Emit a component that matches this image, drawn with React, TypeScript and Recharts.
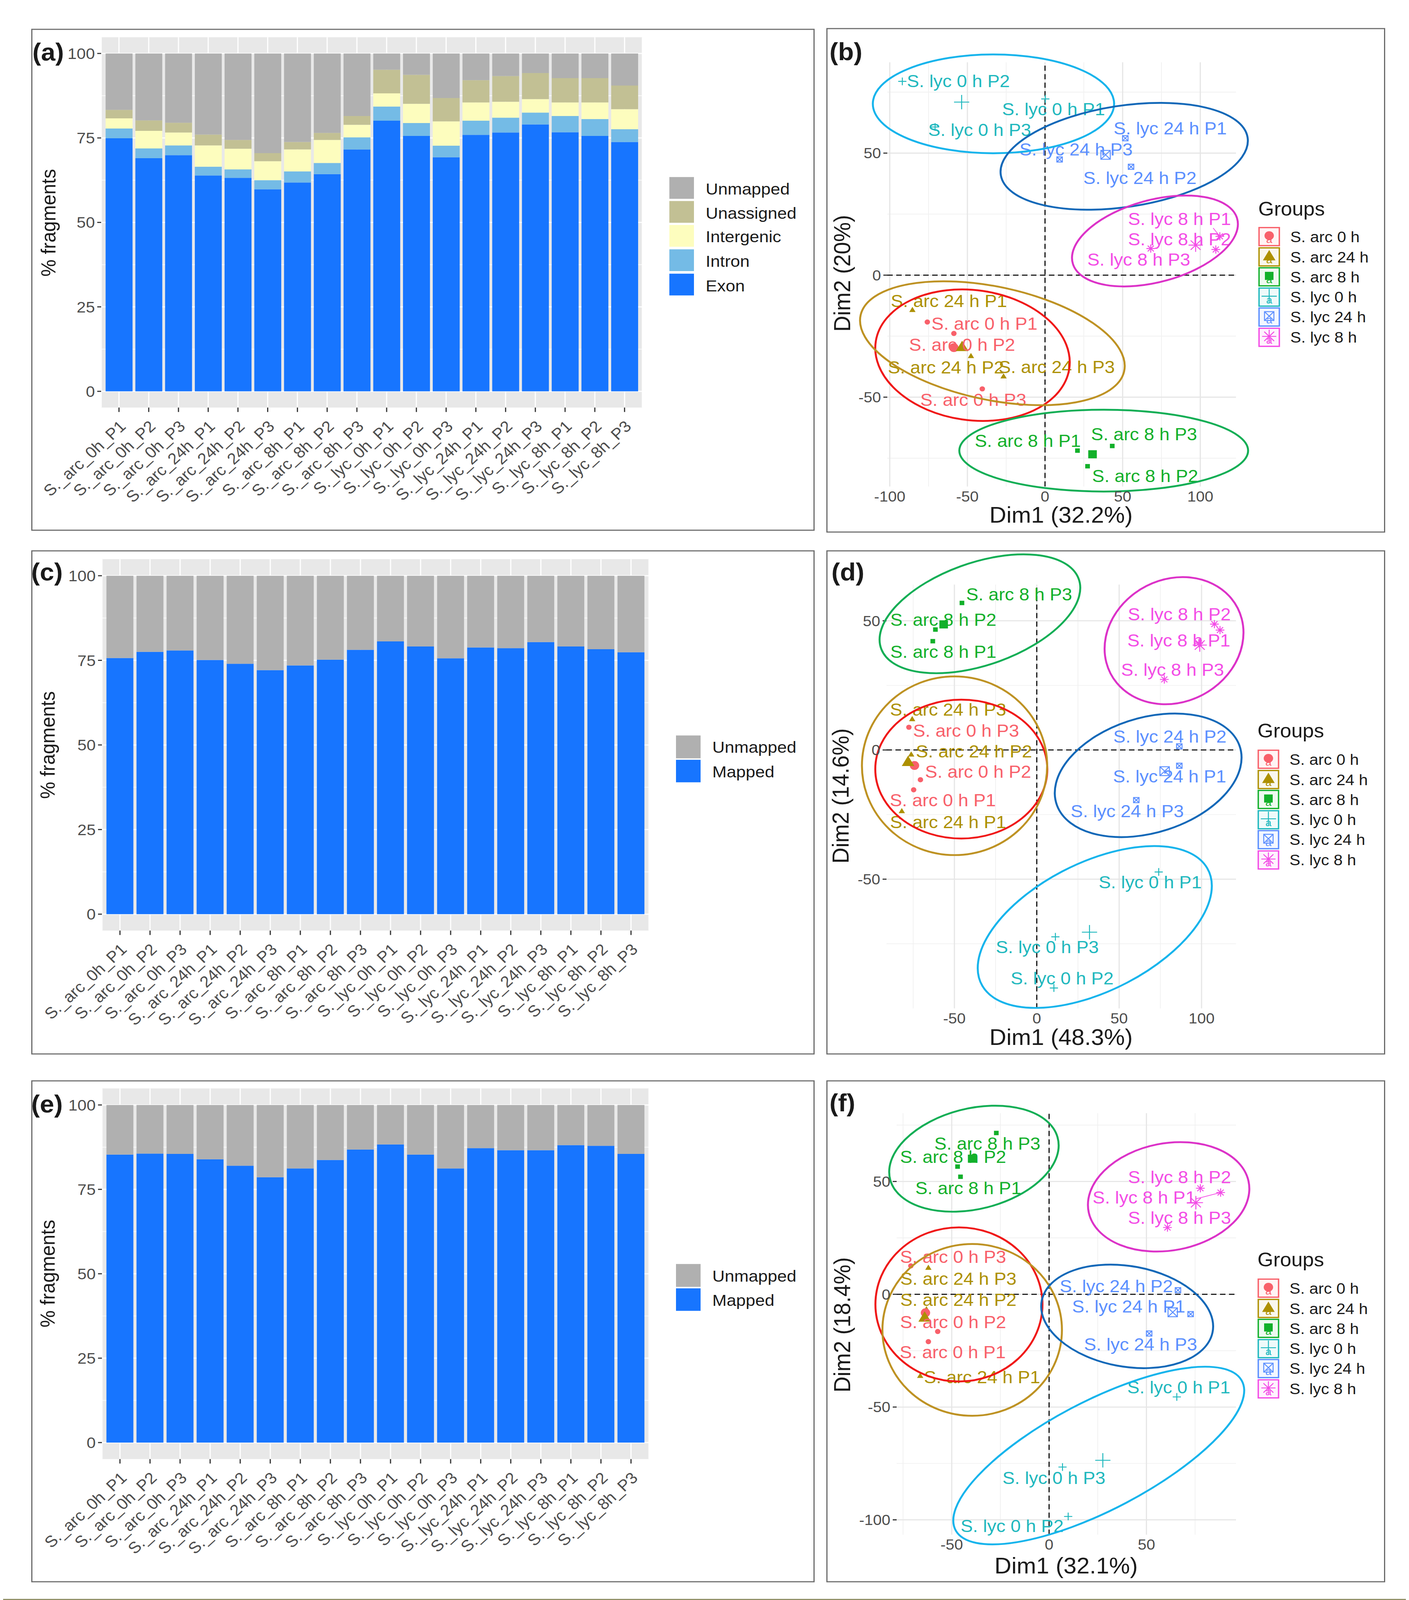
import { BarChart, Bar, XAxis, YAxis, CartesianGrid, ScatterChart, Scatter, ReferenceLine } from 'recharts';

const samples = [
  'S._arc_0h_P1', 'S._arc_0h_P2', 'S._arc_0h_P3', 'S._arc_24h_P1', 'S._arc_24h_P2', 'S._arc_24h_P3',
  'S._arc_8h_P1', 'S._arc_8h_P2', 'S._arc_8h_P3', 'S._lyc_0h_P1', 'S._lyc_0h_P2', 'S._lyc_0h_P3',
  'S._lyc_24h_P1', 'S._lyc_24h_P2', 'S._lyc_24h_P3', 'S._lyc_8h_P1', 'S._lyc_8h_P2', 'S._lyc_8h_P3',
];
const pctTicks = [0, 25, 50, 75, 100];
const pctMinor = [12.5, 37.5, 62.5, 87.5];

// panel a, % fragments
const aExon = [74.9, 69.0, 69.9, 63.9, 63.2, 59.8, 61.8, 64.3, 71.6, 80.1, 75.6, 69.3, 75.9, 76.6, 79.0, 76.7, 75.6, 73.8];
const aIntron = [2.9, 2.9, 2.9, 2.6, 2.5, 2.7, 3.3, 3.3, 3.6, 4.2, 3.8, 3.4, 4.2, 4.4, 3.5, 4.8, 5.0, 3.8];
const aIntergenic = [3.0, 5.2, 3.8, 6.3, 6.1, 5.6, 6.5, 6.8, 3.7, 3.9, 5.7, 7.2, 5.4, 4.7, 4.0, 4.0, 4.9, 5.9];
const aUnassigned = [2.5, 3.1, 2.9, 3.2, 2.6, 2.4, 2.2, 2.1, 2.6, 7.0, 8.6, 6.9, 6.6, 7.6, 7.7, 7.2, 7.2, 7.0];
const aUnmapped = [16.7, 19.8, 20.5, 24.0, 25.6, 29.5, 26.2, 23.5, 18.5, 4.8, 6.3, 13.2, 7.9, 6.7, 5.8, 7.3, 7.3, 9.5];

// panels c and e
const cMapped = [75.7, 77.5, 77.9, 75.1, 74.0, 72.1, 73.5, 75.2, 78.1, 80.6, 79.1, 75.6, 78.8, 78.6, 80.4, 79.1, 78.3, 77.4];
const cUnmapped = [24.3, 22.5, 22.1, 24.9, 26.0, 27.9, 26.5, 24.8, 21.9, 19.4, 20.9, 24.4, 21.2, 21.4, 19.6, 20.9, 21.7, 22.6];
const eMapped = [85.3, 85.6, 85.5, 83.9, 82.0, 78.6, 81.2, 83.7, 86.8, 88.3, 85.3, 81.2, 87.2, 86.6, 86.6, 88.1, 87.9, 85.5];
const eUnmapped = [14.7, 14.4, 14.5, 16.1, 18.0, 21.4, 18.8, 16.3, 13.2, 11.7, 14.7, 18.8, 12.8, 13.4, 13.4, 11.9, 12.1, 14.5];

const groups = ['S. arc 0 h', 'S. arc 24 h', 'S. arc 8 h', 'S. lyc 0 h', 'S. lyc 24 h', 'S. lyc 8 h'];
const markers = ['circle', 'triangle', 'square', 'plus', 'boxx', 'star'];
const pointColors = ['#F8606A', '#AD9000', '#12B02A', '#1FB8BE', '#5B8FFF', '#F34CE6'];
const ellipseColors = ['#F01818', '#BE9223', '#12AE55', '#16B4EC', '#1268B8', '#DC32C8'];

// PCA values, one row per group in the order of `groups`
const bPoints = [
  [[-75.8, -19.2], [-58.7, -23.9], [-40.4, -46.6]],
  [[-85.4, -14.2], [-47.7, -33.1], [-26.7, -41.4]],
  [[20.9, -71.9], [27.4, -78.3], [43.3, -70]],
  [[0.2, 72.2], [-91.9, 79.4], [-70.8, 60.7]],
  [[51.7, 56.1], [55.4, 44.4], [9.4, 47.4]],
  [[68.1, 10.9], [112.6, 15.9], [110, 10.5]],
];
const bMeans = [[-58.7, -29.7], [-53.4, -29.3], [30.6, -73.4], [-53.7, 70.9], [39, 49.3], [97, 12.3]];
const bLabels = [
  [[-39, -20], [-53.4, -28.6], [-46.2, -51.1]],
  [[-61.9, -10.7], [-63.8, -37.8], [7.5, -37.7]],
  [[-11.1, -68], [64.5, -82.3], [63.8, -65.3]],
  [[5.5, 67.9], [-55.8, 79.4], [-42.1, 59.5]],
  [[80.6, 60.1], [61.1, 39.8], [20, 51.4]],
  [[86.6, 22.9], [86.6, 14.6], [60.4, 6.3]],
];
// centre x, centre y, semi axes in Dim1 units, tilt in degrees
const bEllipses = [
  [-46.7, -32.8, 63, 44.3, 8.8],
  [-33.9, -27.9, 87, 38.5, 12.9],
  [37.8, -71.9, 93, 27.9, 0],
  [-33.2, 70.2, 77.7, 33.7, 0],
  [51, 48.7, 80.5, 34.5, -9.3],
  [70.8, 14, 55.1, 27.9, -16.5],
];
const bRepel = [[108.3, 19.3], [112.6, 15.9]];

const dPoints = [
  [[-74.7, -15.4], [-70.6, -11.5], [-77.6, 8.8]],
  [[-81.9, -23.6], [-76.2, -1.7], [-75.6, 12]],
  [[-63.1, 42.1], [-61.5, 46.6], [-45.4, 56.9]],
  [[74, -47.2], [10.4, -92.1], [11.3, -72.3]],
  [[86.5, -6.1], [86.5, 1.4], [60.4, -19.4]],
  [[98.3, 41.3], [107.8, 48.7], [111.2, 46.4], [77.4, 27.3]],
];
const dMeans = [[-74.2, -6], [-78.1, -4.5], [-56.5, 48.6], [32, -70.5], [77.6, -8.2], [98.9, 40.6]];
const dLabels = [
  [[-57, -19.5], [-35.6, -8.5], [-42.9, 7.4]],
  [[-53.8, -27.9], [-38.1, -0.6], [-53.8, 15.6]],
  [[-56.7, 38], [-56.7, 50.3], [-10.7, 60.1]],
  [[68.8, -51.3], [15.4, -88.4], [6.4, -76.4]],
  [[80.6, -10.3], [80.8, 5.2], [54.9, -23.7]],
  [[86.2, 42.3], [86.5, 52.4], [82.4, 31]],
];
const dEllipses = [
  [-45.8, -7.4, 52.2, 44.6, 0],
  [-49.9, -6.1, 56.2, 57.4, 0],
  [-34.5, 52.7, 64, 32.7, -21],
  [35.2, -68.5, 78, 40.8, -29],
  [67.6, -9.8, 58.6, 36.8, -19.1],
  [83.3, 42.3, 44.1, 38.7, -38],
];

const fPoints = [
  [[-62, -21], [-57.2, -16.5], [-71, 12.6]],
  [[-66.2, -36.1], [-63, -6.6], [-62, 11.8]],
  [[-45.5, 52.1], [-47, 56.6], [-27.1, 71.5]],
  [[65.6, -45.5], [9.8, -98.5], [6.9, -76.6]],
  [[72.7, -8.8], [66.2, 1.8], [51.4, -17.4]],
  [[88.1, 45.1], [77.7, 47], [60.8, 29.6]],
];
const fMeans = [[-63.5, -8.2], [-63.9, -10.2], [-39.5, 60.1], [27.6, -73.6], [63.5, -8], [75.4, 40.6]];
const fLabels = [
  [[-49.5, -25.7], [-49.3, -12.4], [-49.3, 16.6]],
  [[-34.4, -36.8], [-46.6, -2.6], [-46.6, 6.9]],
  [[-41.5, 47], [-49.3, 60.9], [-31.7, 66.7]],
  [[66.6, -41.3], [-19, -102.8], [2.5, -81.5]],
  [[40.9, -5.5], [34.5, 3.5], [47, -22.2]],
  [[48.8, 42.8], [67, 51.8], [67, 33.9]],
];
const fEllipses = [
  [-46.3, -4.5, 42.9, 41.9, 0],
  [-39.5, -15.8, 46.1, 46.7, 0],
  [-38.6, 60.1, 44.5, 27.3, -15.3],
  [25.5, -71.5, 84, 29.3, -29.2],
  [40.1, -9.8, 44.7, 27.3, 11.3],
  [61.4, 43.2, 41.9, 29.1, -11.8],
];
const fRepel = [[75.4, 42.3], [88.1, 45.1]];

const sans = '"Liberation Sans", Arial, sans-serif';
const PAGE_W = 3608;
const PAGE_H = 4338;

function Txt({ x, y, size, color = '#1a1a1a', bold, rotate, anchor = 'left', children }: any) {
  const tx = anchor === 'center' ? '-50%' : '0';
  const style: any = {
    position: 'absolute', left: x, top: y, fontSize: size, color, whiteSpace: 'nowrap', lineHeight: 1,
    fontWeight: bold ? 700 : 400, transform: `translate(${tx},-50%)${rotate ? ` rotate(${rotate}deg)` : ''}`,
  };
  return <div style={style}>{children}</div>;
}

function Box({ left, top, right, bottom }: any) {
  return <div style={{ position: 'absolute', left, top, width: right - left, height: bottom - top, border: '3px solid #6b6b6b', boxSizing: 'border-box' }} />;
}

function SampleTick({ x, y, payload }: any) {
  return (
    <text transform={`translate(${x + 20},${y + 40}) rotate(-44)`} textAnchor="end" fill="#4d4d4d" fontSize={43}>
      {payload.value}
    </text>
  );
}

function StackPanel({ frame, plot, domain, series }: any) {
  const w = frame.right - frame.left;
  const h = frame.bottom - frame.top;
  const plotW = plot.right - plot.left;
  // ggplot keeps 0.6 of a category at each end, the band itself starts 0.1 in
  const pad = (plotW / 18.2) * 0.1;
  const rows = samples.map((s, i) => {
    const row: any = { sample: s };
    series.forEach((o: any) => { row[o.name] = o.values[i]; });
    return row;
  });
  return (
    <div style={{ position: 'absolute', left: frame.left, top: frame.top }}>
      <BarChart width={w} height={h} data={rows} barCategoryGap="5%" margin={{ top: plot.top - frame.top, right: frame.right - plot.right, left: 0, bottom: 0 }}>
        <CartesianGrid fill="#e8e8e8" fillOpacity={1} stroke="#fff" strokeWidth={3} horizontalValues={pctTicks} />
        <CartesianGrid vertical={false} stroke="#fff" strokeWidth={1.5} horizontalValues={pctMinor} />
        <XAxis dataKey="sample" height={frame.bottom - plot.bottom} interval={0} padding={{ left: pad, right: pad }} axisLine={false}
          tickLine={{ stroke: '#333', strokeWidth: 3 }} tickSize={12} tick={<SampleTick />} />
        <YAxis width={plot.left - frame.left} type="number" domain={domain} ticks={pctTicks} axisLine={false}
          tickLine={{ stroke: '#333', strokeWidth: 3 }} tickSize={10} tickMargin={6} tick={{ fill: '#4d4d4d', fontSize: 42 }} />
        {series.map((o: any) => (
          <Bar key={o.name} dataKey={o.name} stackId="s" fill={o.color} isAnimationActive={false} />
        ))}
      </BarChart>
    </div>
  );
}

function Marker({ kind, cx, cy, s, color }: any) {
  if (kind === 'circle') return <circle cx={cx} cy={cy} r={s} fill={color} />;
  if (kind === 'triangle') return <path d={`M${cx} ${cy - s * 1.15}L${cx + s * 1.15} ${cy + s * 0.85}L${cx - s * 1.15} ${cy + s * 0.85}Z`} fill={color} />;
  if (kind === 'square') return <rect x={cx - s} y={cy - s} width={s * 2} height={s * 2} fill={color} />;
  if (kind === 'plus') {
    const r = s * 1.5;
    return <path d={`M${cx - r} ${cy}H${cx + r}M${cx} ${cy - r}V${cy + r}`} stroke={color} strokeWidth={2.5} fill="none" />;
  }
  if (kind === 'boxx') {
    return (
      <g stroke={color} strokeWidth={2.5} fill="none">
        <rect x={cx - s} y={cy - s} width={s * 2} height={s * 2} />
        <path d={`M${cx - s} ${cy - s}L${cx + s} ${cy + s}M${cx - s} ${cy + s}L${cx + s} ${cy - s}`} />
      </g>
    );
  }
  const r = s * 1.4;
  const d = r * 0.7;
  return <path d={`M${cx - r} ${cy}H${cx + r}M${cx} ${cy - r}V${cy + r}M${cx - d} ${cy - d}L${cx + d} ${cy + d}M${cx - d} ${cy + d}L${cx + d} ${cy - d}`} stroke={color} strokeWidth={2.5} fill="none" />;
}

const smallSize = [7, 7, 6, 7, 7, 8];
const meanSize = [12, 14, 11, 13, 12, 13];

function PcaPanel({ frame, plot, xDomain, yDomain, xTicks, yTicks, xMinor, yMinor, points, means, labels, ellipses, repel }: any) {
  const w = frame.right - frame.left;
  const h = frame.bottom - frame.top;
  const pxPerX = (plot.right - plot.left) / (xDomain[1] - xDomain[0]);
  return (
    <div style={{ position: 'absolute', left: frame.left, top: frame.top }}>
      <ScatterChart width={w} height={h} margin={{ top: plot.top - frame.top, right: frame.right - plot.right, left: 0, bottom: 0 }}>
        <CartesianGrid stroke="#f1f1f1" strokeWidth={2} horizontalValues={yMinor} verticalValues={xMinor} />
        <CartesianGrid stroke="#e6e6e6" strokeWidth={3} horizontalValues={yTicks} verticalValues={xTicks} />
        <XAxis dataKey="x" type="number" domain={xDomain} ticks={xTicks} height={frame.bottom - plot.bottom} axisLine={false} tickLine={false}
          tickMargin={6} tick={{ fill: '#4d4d4d', fontSize: 40 }} />
        <YAxis dataKey="y" type="number" domain={yDomain} ticks={yTicks} width={plot.left - frame.left} axisLine={false}
          tickLine={{ stroke: '#333', strokeWidth: 3 }} tickSize={10} tickMargin={6} tick={{ fill: '#4d4d4d', fontSize: 40 }} />
        <ReferenceLine x={0} stroke="#111" strokeWidth={3} strokeDasharray="14 9" />
        <ReferenceLine y={0} stroke="#111" strokeWidth={3} strokeDasharray="14 9" />
        {repel && (
          <Scatter data={repel.map(([x, y]: number[]) => ({ x, y }))} line={{ stroke: pointColors[5], strokeWidth: 2 }} shape={() => <g />} isAnimationActive={false} />
        )}
        {groups.map((g, i) => (
          <Scatter key={g + 'pts'} data={points[i].map(([x, y]: number[]) => ({ x, y }))} isAnimationActive={false}
            shape={(p: any) => <Marker kind={markers[i]} cx={p.cx} cy={p.cy} s={smallSize[i]} color={pointColors[i]} />} />
        ))}
        {groups.map((g, i) => (
          <Scatter key={g + 'mean'} data={[{ x: means[i][0], y: means[i][1] }]} isAnimationActive={false}
            shape={(p: any) => <Marker kind={markers[i]} cx={p.cx} cy={p.cy} s={meanSize[i]} color={pointColors[i]} />} />
        ))}
        {groups.map((g, i) => (
          <Scatter key={g + 'lab'} data={labels[i].map(([x, y]: number[], k: number) => ({ x, y, text: `${g} P${k + 1}` }))} isAnimationActive={false}
            shape={(p: any) => (
              <text x={p.cx} y={p.cy} textAnchor="middle" dominantBaseline="central" fill={pointColors[i]} fontSize={47}>{p.payload.text}</text>
            )} />
        ))}
        {groups.map((g, i) => {
          const [ex, ey, a, b, tilt] = ellipses[i];
          return (
            <Scatter key={g + 'ell'} data={[{ x: ex, y: ey }]} isAnimationActive={false}
              shape={(p: any) => (
                <ellipse cx={p.cx} cy={p.cy} rx={a * pxPerX} ry={b * pxPerX} transform={`rotate(${tilt} ${p.cx} ${p.cy})`}
                  fill="none" stroke={ellipseColors[i]} strokeWidth={5} />
              )} />
          );
        })}
      </ScatterChart>
    </div>
  );
}

function GroupLegend({ x, titleY, top }: any) {
  return (
    <>
      <Txt x={x} y={titleY} size={52}>Groups</Txt>
      {groups.map((g, i) => {
        const y = top + i * 54.6;
        return (
          <div key={g}>
            <svg style={{ position: 'absolute', left: x, top: y }} width={56} height={54}>
              <rect x={2} y={2} width={52} height={49} fill={pointColors[i]} fillOpacity={0.07} stroke={pointColors[i]} strokeWidth={3.5} />
              <text x={28} y={44} textAnchor="middle" fill={pointColors[i]} fontSize={28}>a</text>
              <Marker kind={markers[i]} cx={28} cy={24} s={meanSize[i]} color={pointColors[i]} />
            </svg>
            <Txt x={x + 82} y={y + 27} size={41.5}>{g}</Txt>
          </div>
        );
      })}
    </>
  );
}

function Swatches({ x, items }: any) {
  return items.map((it: any) => (
    <div key={it.name}>
      <div style={{ position: 'absolute', left: x, top: it.top, width: 63, height: it.h, background: it.color }} />
      <Txt x={x + 93} y={it.labelY} size={44}>{it.name}</Txt>
    </div>
  ));
}

const gray = '#B0B0B0';
const blue = '#1775FF';

export default function App() {
  // the window can come up shorter than the figure, squeeze rather than lose the bottom row
  const fit = Math.min(1, window.innerHeight / PAGE_H);
  return (
    <div style={{ position: 'relative', marginLeft: -8, marginTop: -8, width: PAGE_W, height: PAGE_H * fit, overflow: 'hidden', background: '#fff', fontFamily: sans }}>
      <div style={{ position: 'absolute', left: 0, top: 0, width: PAGE_W, height: PAGE_H, transform: `scale(1,${fit})`, transformOrigin: '0 0' }}>
        <div style={{ position: 'absolute', left: 0, top: 0, width: PAGE_W, height: PAGE_H, border: '3px solid #8d8d63', boxSizing: 'border-box' }} />
        <Box left={80} top={78} right={2086} bottom={1439} />
        <Box left={2116} top={76} right={3547} bottom={1444} />
        <Box left={80} top={1492} right={2086} bottom={2859} />
        <Box left={2116} top={1492} right={3547} bottom={2859} />
        <Box left={80} top={2929} right={2086} bottom={4290} />
        <Box left={2116} top={2929} right={3547} bottom={4290} />

        <StackPanel frame={{ left: 80, top: 78, right: 2086, bottom: 1439 }} plot={{ left: 259, top: 101, right: 1645, bottom: 1105 }} domain={[-4.8, 104.8]}
          series={[
            { name: 'Exon', values: aExon, color: blue },
            { name: 'Intron', values: aIntron, color: '#74BBE6' },
            { name: 'Intergenic', values: aIntergenic, color: '#FDFDBE' },
            { name: 'Unassigned', values: aUnassigned, color: '#C2C094' },
            { name: 'Unmapped', values: aUnmapped, color: gray },
          ]} />
        <StackPanel frame={{ left: 80, top: 1492, right: 2086, bottom: 2859 }} plot={{ left: 261, top: 1516, right: 1662, bottom: 2523 }} domain={[-4.85, 104.9]}
          series={[{ name: 'Mapped', values: cMapped, color: blue }, { name: 'Unmapped', values: cUnmapped, color: gray }]} />
        <StackPanel frame={{ left: 80, top: 2929, right: 2086, bottom: 4290 }} plot={{ left: 261, top: 2951, right: 1662, bottom: 3956 }} domain={[-4.9, 104.9]}
          series={[{ name: 'Mapped', values: eMapped, color: blue }, { name: 'Unmapped', values: eUnmapped, color: gray }]} />

        <PcaPanel frame={{ left: 2116, top: 76, right: 3547, bottom: 1444 }} plot={{ left: 2272, top: 169, right: 3165, bottom: 1319 }}
          xDomain={[-101.6, 123]} yDomain={[-86.6, 87.2]} xTicks={[-100, -50, 0, 50, 100]} yTicks={[-50, 0, 50]} xMinor={[-75, -25, 25, 75]} yMinor={[-75, -25, 25, 75]}
          points={bPoints} means={bMeans} labels={bLabels} ellipses={bEllipses} repel={bRepel} />
        <PcaPanel frame={{ left: 2116, top: 1492, right: 3547, bottom: 2859 }} plot={{ left: 2270, top: 1585, right: 3165, bottom: 2734 }}
          xDomain={[-91.2, 120.9]} yDomain={[-100, 64]} xTicks={[-50, 0, 50, 100]} yTicks={[-50, 0, 50]} xMinor={[-75, -25, 25, 75]} yMinor={[-75, -25, 25]}
          points={dPoints} means={dMeans} labels={dLabels} ellipses={dEllipses} />
        <PcaPanel frame={{ left: 2116, top: 2929, right: 3547, bottom: 4290 }} plot={{ left: 2296, top: 3018, right: 3165, bottom: 4161 }}
          xDomain={[-78.3, 96]} yDomain={[-106.6, 80.3]} xTicks={[-50, 0, 50]} yTicks={[-100, -50, 0, 50]} xMinor={[-75, -25, 25, 75]} yMinor={[-75, -25, 25, 75]}
          points={fPoints} means={fMeans} labels={fLabels} ellipses={fEllipses} repel={fRepel} />

        <Txt x={83} y={141} size={66} bold>(a)</Txt>
        <Txt x={2124} y={140} size={66} bold>(b)</Txt>
        <Txt x={80} y={1551} size={66} bold>(c)</Txt>
        <Txt x={2129} y={1551} size={66} bold>(d)</Txt>
        <Txt x={80} y={2993} size={66} bold>(e)</Txt>
        <Txt x={2124} y={2990} size={66} bold>(f)</Txt>

        <Txt x={124} y={604} size={52} rotate={-90} anchor="center">% fragments</Txt>
        <Txt x={122} y={2020} size={52} rotate={-90} anchor="center">% fragments</Txt>
        <Txt x={122} y={3453} size={52} rotate={-90} anchor="center">% fragments</Txt>

        <Txt x={2717} y={1397} size={60} anchor="center">Dim1 (32.2%)</Txt>
        <Txt x={2717} y={2813} size={60} anchor="center">Dim1 (48.3%)</Txt>
        <Txt x={2730} y={4246} size={60} anchor="center">Dim1 (32.1%)</Txt>
        <Txt x={2157} y={741} size={60} rotate={-90} anchor="center">Dim2 (20%)</Txt>
        <Txt x={2153} y={2158} size={60} rotate={-90} anchor="center">Dim2 (14.6%)</Txt>
        <Txt x={2157} y={3592} size={60} rotate={-90} anchor="center">Dim2 (18.4%)</Txt>

        <Swatches x={1714} items={[
          { name: 'Unmapped', top: 480, h: 59, color: gray, labelY: 512 },
          { name: 'Unassigned', top: 545, h: 59, color: '#C2C094', labelY: 578 },
          { name: 'Intergenic', top: 610, h: 59, color: '#FDFDBE', labelY: 642 },
          { name: 'Intron', top: 676, h: 59, color: '#74BBE6', labelY: 708 },
          { name: 'Exon', top: 742, h: 59, color: blue, labelY: 775 },
        ]} />
        <Swatches x={1731} items={[
          { name: 'Unmapped', top: 1994, h: 62, color: gray, labelY: 2026 },
          { name: 'Mapped', top: 2060, h: 61, color: blue, labelY: 2093 },
        ]} />
        <Swatches x={1731} items={[
          { name: 'Unmapped', top: 3427, h: 62, color: gray, labelY: 3460 },
          { name: 'Mapped', top: 3493, h: 61, color: blue, labelY: 3525 },
        ]} />

        <GroupLegend x={3222} titleY={567} top={615} />
        <GroupLegend x={3220} titleY={1982} top={2032} />
        <GroupLegend x={3220} titleY={3416} top={3466} />
      </div>
    </div>
  );
}
